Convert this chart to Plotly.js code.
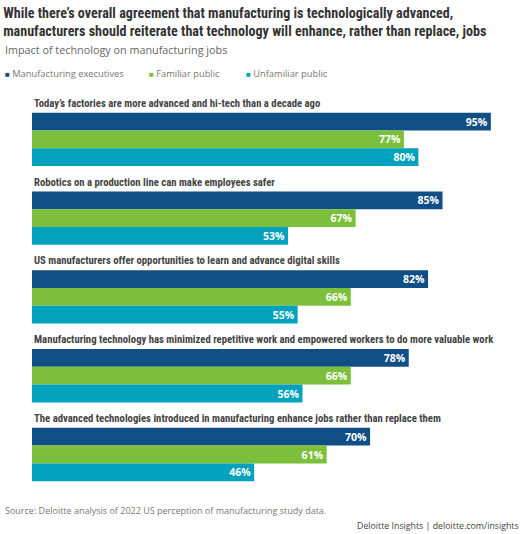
<!DOCTYPE html>
<html>
<head>
<meta charset="utf-8">
<script src="https://cdn.plot.ly/plotly-3.0.1.min.js"></script>
<style>html,body{margin:0;padding:0;background:#fff;}#chart{width:524px;height:534px;}</style>
</head>
<body>
<div id="chart"></div>
<script>
var categories = [
  "Today\u2019s factories are more advanced and hi-tech than a decade ago",
  "Robotics on a production line can make employees safer",
  "US manufacturers offer opportunities to learn and advance digital skills",
  "Manufacturing technology has minimized repetitive work and empowered workers to do more valuable work",
  "The advanced technologies introduced in manufacturing enhance jobs rather than replace them"
];
var seriesNames = ["Manufacturing executives", "Familiar public", "Unfamiliar public"];
var executives = [95, 85, 82, 78, 70];
var familiar = [77, 67, 66, 66, 61];
var unfamiliar = [80, 53, 55, 56, 46];
var seriesValues = [executives, familiar, unfamiliar];
var colors = ["#0F4F85", "#7CBF3A", "#00A2BE"];

var traces = seriesValues.map(function (vals, i) {
  return {
    type: "bar",
    orientation: "h",
    name: seriesNames[i],
    y: categories,
    x: vals,
    marker: { color: colors[i] },
    text: vals.map(function (v) { return v + "%"; }),
    textposition: "inside",
    insidetextanchor: "end",
    textfont: { color: "#ffffff", size: 10.5, family: "Open Sans", weight: "bold" },
    constraintext: "none",
    hoverinfo: "skip",
    showlegend: false
  };
});

var annotations = categories.map(function (c) {
  return {
    xref: "x", yref: "y", x: 0, y: c, xanchor: "left", yanchor: "middle",
    yshift: 36, text: "<b>" + c + "</b>", showarrow: false,
    font: { family: "Liberation Sans Narrow, Roboto Condensed, Arial Narrow, sans-serif", size: 10.7, color: "#444444" }
  };
});

var legendX = [-0.06, 0.238, 0.439];
seriesNames.forEach(function (n, i) {
  annotations.push({
    xref: "paper", yref: "paper", x: legendX[i], y: 1.0, xanchor: "left", yanchor: "middle",
    yshift: 27, text: "<span style='color:" + colors[i] + ";font-size:8px'>\u25A0</span> " + n, showarrow: false,
    font: { family: "Open Sans", size: 9.3, color: "#777777" }
  });
});

var layout = {
  width: 524, height: 534,
  margin: { l: 32, r: 9, t: 100, b: 35 },
  paper_bgcolor: "#ffffff", plot_bgcolor: "#ffffff",
  barmode: "group", bargap: 0.323, bargroupgap: 0,
  title: {
    text: "<b>While there\u2019s overall agreement that manufacturing is technologically advanced,<br>manufacturers should reiterate that technology will enhance, rather than replace, jobs</b>",
    x: 0.006, xanchor: "left", xref: "container", yref: "container", y: 1, yanchor: "top",
    pad: { t: 18 },
    font: { family: "Liberation Sans Narrow, Roboto Condensed, sans-serif", size: 14.1, color: "#333333" }
  },
  xaxis: { range: [0, 100], visible: false, fixedrange: true },
  yaxis: { type: "category", autorange: "reversed", visible: false, fixedrange: true },
  showlegend: false,
  annotations: annotations.concat([
    { xref: "paper", yref: "paper", x: -0.060, y: 1, xanchor: "left", yanchor: "middle", yshift: 51,
      text: "Impact of technology on manufacturing jobs", showarrow: false,
      font: { family: "Open Sans", size: 10.8, color: "#666666" } },
    { xref: "paper", yref: "paper", x: -0.060, y: 0, xanchor: "left", yanchor: "middle", yshift: -11,
      text: "Source: Deloitte analysis of 2022 US perception of manufacturing study data.", showarrow: false,
      font: { family: "Open Sans", size: 9, color: "#777777" } },
    { xref: "paper", yref: "paper", x: 1.0124, y: 0, xanchor: "right", yanchor: "middle", yshift: -27,
      text: "Deloitte Insights | deloitte.com/insights", showarrow: false,
      font: { family: "Open Sans", size: 8.8, color: "#444444" } }
  ])
};

Plotly.newPlot("chart", traces, layout, { displayModeBar: false, staticPlot: true });
</script>
</body>
</html>
